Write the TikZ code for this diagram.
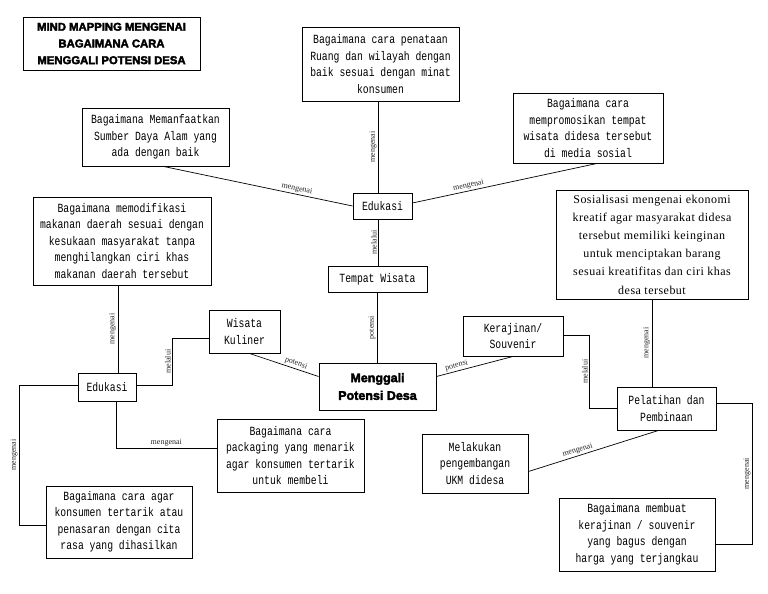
\documentclass[tikz,border=0pt]{standalone}
\usepackage{fontspec}
\setmainfont{Liberation Serif}
\newfontfamily\boxfont[FakeStretch=0.78]{Liberation Mono}
\newfontfamily\heavyfont[FakeBold=3]{Liberation Sans Bold}
\newfontfamily\sosfont[LetterSpace=4]{Liberation Serif}
\begin{document}
\begin{tikzpicture}[x=1pt,y=-1pt,
  box/.style={draw, line width=0.9pt, inner sep=0pt, align=center,
    font=\boxfont\fontsize{12.5}{16.5}\selectfont},
  heavybox/.style={draw, line width=0.9pt, inner sep=0pt, align=center,
    font=\heavyfont\fontsize{11.3}{16.7}\selectfont},
  sosbox/.style={draw, line width=0.9pt, inner sep=0pt, align=center,
    font=\sosfont\fontsize{12}{18.2}\selectfont},
  lbl/.style={font=\fontsize{8}{9}\selectfont, text=black!85, inner sep=1.5pt},
  conn/.style={line width=0.7pt}]
\fill[white] (0,0) rectangle (768,594);
\useasboundingbox (0,0) rectangle (768,594);

% nodes
\node[heavybox, minimum width=177pt, minimum height=53pt] (title) at (111.5,43.5)
  {MIND MAPPING MENGENAI\\BAGAIMANA CARA\\MENGGALI POTENSI DESA};
\node[box, minimum width=147pt, minimum height=58pt] (mem) at (155.5,137)
  {Bagaimana Memanfaatkan\\Sumber Daya Alam yang\\ada dengan baik};
\node[box, minimum width=157pt, minimum height=74pt] (pen) at (380.5,64)
  {Bagaimana cara penataan\\Ruang dan wilayah dengan\\baik sesuai dengan minat\\konsumen};
\node[box, minimum width=59pt, minimum height=26pt] (edua) at (382.5,206) {Edukasi};
\node[box, minimum width=99pt, minimum height=26pt] (tw) at (377.5,279) {Tempat Wisata};
\node[box, minimum width=150pt, minimum height=70pt] (pro) at (588,128)
  {Bagaimana cara\\mempromosikan tempat\\wisata didesa tersebut\\di media sosial};
\node[sosbox, minimum width=192pt, minimum height=109pt] (sos) at (652,244.5)
  {Sosialisasi mengenai ekonomi\\kreatif agar masyarakat didesa\\tersebut memiliki keinginan\\untuk menciptakan barang\\sesuai kreatifitas dan ciri khas\\desa tersebut};
\node[box, minimum width=178pt, minimum height=88pt] (mod) at (122,241)
  {Bagaimana memodifikasi\\makanan daerah sesuai dengan\\kesukaan masyarakat tanpa\\menghilangkan ciri khas\\makanan daerah tersebut};
\node[box, minimum width=71pt, minimum height=43pt] (wk) at (244.5,331.5) {Wisata\\Kuliner};
\node[box, minimum width=58pt, minimum height=28pt] (edub) at (107,387) {Edukasi};
\node[heavybox, minimum width=117pt, minimum height=47pt,
  font=\heavyfont\fontsize{12.5}{17.7}\selectfont] (men) at (377.5,386.5) {Menggali\\Potensi Desa};
\node[box, minimum width=100pt, minimum height=40pt] (ker) at (513,336) {Kerajinan/\\Souvenir};
\node[box, minimum width=99pt, minimum height=43pt] (pel) at (666.5,408.5) {Pelatihan dan\\Pembinaan};
\node[box, minimum width=106pt, minimum height=59pt] (mel) at (475,463.5) {Melakukan\\pengembangan\\UKM didesa};
\node[box, minimum width=156pt, minimum height=73pt] (mbt) at (637,534.5)
  {Bagaimana membuat\\kerajinan / souvenir\\yang bagus dengan\\harga yang terjangkau};
\node[box, minimum width=147pt, minimum height=73pt] (pack) at (290.5,455.5)
  {Bagaimana cara\\packaging yang menarik\\agar konsumen tertarik\\untuk membeli};
\node[box, minimum width=146pt, minimum height=72pt] (agar) at (119,522)
  {Bagaimana cara agar\\konsumen tertarik atau\\penasaran dengan cita\\rasa yang dihasilkan};

% connectors
\draw[conn] ([xshift=8pt]mem.south) -- (edua.west)
  node[lbl, pos=0.7, sloped, above] {mengenai};
\draw[conn] ([xshift=-2pt]pen.south) -- ([xshift=-2pt]pen.south |- edua.north)
  node[lbl, midway, rotate=90, above] {mengenai};
\draw[conn] ([yshift=3pt]edua.east) -- ([xshift=9pt]pro.south)
  node[lbl, pos=0.31, sloped, above] {mengenai};
\draw[conn] ([xshift=-4pt]edua.south) -- ([xshift=-4pt]edua.south |- tw.north)
  node[lbl, midway, rotate=90, above] {melalui};
\draw[conn] (tw.south) -- (tw.south |- men.north)
  node[lbl, midway, rotate=90, above] {potensi};
\draw[conn] ([xshift=5pt]wk.south) -- ([yshift=10pt]men.west)
  node[lbl, pos=0.65, sloped, above] {potensi};
\draw[conn] ([yshift=10pt]men.east) -- (ker.south)
  node[lbl, pos=0.28, sloped, above] {potensi};

\draw[conn] ([xshift=-4pt]mod.south) -- ([xshift=-4pt]mod.south |- edub.north)
  node[lbl, midway, rotate=90, above] {mengenai};
\coordinate (wkin) at ([yshift=-7pt]wk.west);
\draw[conn] ([yshift=2pt]edub.east) -- ++(36,0) coordinate (ka)
  -- (ka |- wkin) node[lbl, midway, rotate=90, above] {melalui} -- (wkin);
\coordinate (agin) at ([yshift=-3pt]agar.west);
\draw[conn] ([yshift=2pt]edub.west) -- ++(-58,0) coordinate (kb)
  -- (kb |- agin) node[lbl, midway, rotate=90, above] {mengenai} -- (agin);
\draw[conn] ([xshift=9pt]edub.south) |- ([yshift=7pt]pack.west)
  node[lbl, pos=0.75, above] {mengenai};

\draw[conn] ([yshift=1pt]ker.east) -- ++(26,0) coordinate (kc)
  -- (kc |- pel.west) node[lbl, midway, rotate=90, above] {melalui} -- (pel.west);
\draw[conn] (sos.south) -- (sos.south |- pel.north)
  node[lbl, midway, rotate=90, above] {mengenai};
\draw[conn] ([yshift=-8pt]mel.east) -- ([xshift=-8pt]pel.south)
  node[lbl, pos=0.39, sloped, above] {mengenai};
\coordinate (mbin) at ([yshift=-9.5pt]mbt.east);
\draw[conn] ([yshift=5pt]pel.east) -- ++(36,0) coordinate (kd)
  -- (kd |- mbin) node[lbl, midway, rotate=90, above] {mengenai} -- (mbin);
\end{tikzpicture}
\end{document}
